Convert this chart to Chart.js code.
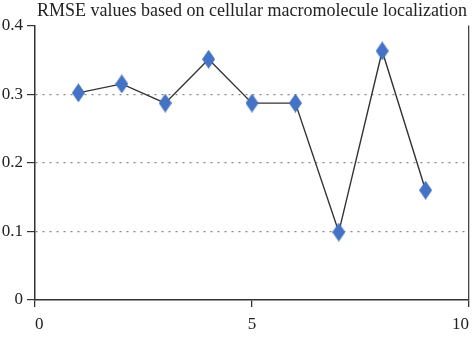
<!DOCTYPE html>
<html>
<head>
<meta charset="utf-8">
<script src="https://cdn.jsdelivr.net/npm/chart.js@4"></script>
<style>
  html, body { margin: 0; padding: 0; background: #fff; }
  #wrap { width: 474px; height: 338px; }
</style>
</head>
<body>
<div id="wrap"><canvas id="rmseChart" width="474" height="338"></canvas></div>
<script>
// dane z wykresu
const xValues = [1, 2, 3, 4, 5, 6, 7, 8, 9];
const rmseValues = [0.302, 0.315, 0.287, 0.351, 0.287, 0.287, 0.099, 0.363, 0.160];
const xTicks = [0, 5, 10];
const yTicks = [0, 0.1, 0.2, 0.3, 0.4];
const chartTitle = 'RMSE values based on cellular macromolecule localization';

// romb (wyższy niż szerszy) jako znacznik punktu
function makeDiamond(w, h, color) {
    const c = document.createElement('canvas');
    c.width = w;
    c.height = h;
    const g = c.getContext('2d');
    g.fillStyle = color;
    g.beginPath();
    g.moveTo(w / 2, 0);
    g.lineTo(w, h / 2);
    g.lineTo(w / 2, h);
    g.lineTo(0, h / 2);
    g.closePath();
    g.fill();
    return c;
}
const diamond = makeDiamond(13, 19, '#4472c4');

const points = xValues.map((x, i) => ({ x: x, y: rmseValues[i] }));
const fontFamily = '"Liberation Serif", "DejaVu Serif", serif';

const config = {
    type: 'line',
    data: {
        datasets: [{
            data: points,
            borderColor: '#333333',
            borderWidth: 1.4,
            pointStyle: diamond,
            // obraz rysowany w swoim rozmiarze, mały promień = brak dodatkowego marginesu
            pointRadius: 1,
            pointHoverRadius: 1,
            clip: 12,
            fill: false,
            tension: 0
        }]
    },
    options: {
        responsive: false,
        animation: false,
        layout: { padding: { left: 0, right: 5, top: 0, bottom: 0 } },
        plugins: {
            legend: { display: false },
            tooltip: { enabled: false },
            title: {
                display: true,
                fullSize: false,
                text: chartTitle,
                color: '#222',
                font: { family: fontFamily, size: 18, weight: 'normal' },
                padding: { top: 0, bottom: 4 }
            }
        },
        scales: {
            x: {
                type: 'linear',
                min: 0,
                max: 10,
                afterBuildTicks: axis => { axis.ticks = xTicks.map(v => ({ value: v })); },
                afterFit: axis => { axis.height = 38; },
                ticks: {
                    color: '#222',
                    // odstęp etykiet przez lineHeight, bo ticks.padding dokłada margines z prawej
                    font: { family: fontFamily, size: 17, lineHeight: 2.1 },
                    padding: 0,
                    align: 'inner',
                    maxRotation: 0
                },
                grid: {
                    color: ctx => (ctx.tick && ctx.tick.value === 10) ? '#444' : 'rgba(0,0,0,0)',
                    lineWidth: 1.3,
                    tickColor: '#333',
                    tickLength: 7
                },
                border: { color: '#333', width: 1.5 }
            },
            y: {
                min: 0,
                max: 0.4,
                afterBuildTicks: axis => { axis.ticks = yTicks.map(v => ({ value: v })); },
                afterFit: axis => { axis.width = 35; },
                ticks: {
                    color: '#222',
                    font: { family: fontFamily, size: 17 },
                    padding: 4,
                    callback: v => String(Math.round(v * 10) / 10)
                },
                grid: {
                    color: ctx => (ctx.tick && ctx.tick.value > 0.05 && ctx.tick.value < 0.35) ? '#888' : 'rgba(0,0,0,0)',
                    lineWidth: 1.2,
                    tickColor: '#333',
                    tickLength: 8
                },
                border: { color: '#333', width: 1.5, dash: [2, 5] }
            }
        }
    }
};

const ctx = document.getElementById('rmseChart');
const myChart = new Chart(ctx, config);
window.myChart = myChart;
</script>
</body>
</html>
